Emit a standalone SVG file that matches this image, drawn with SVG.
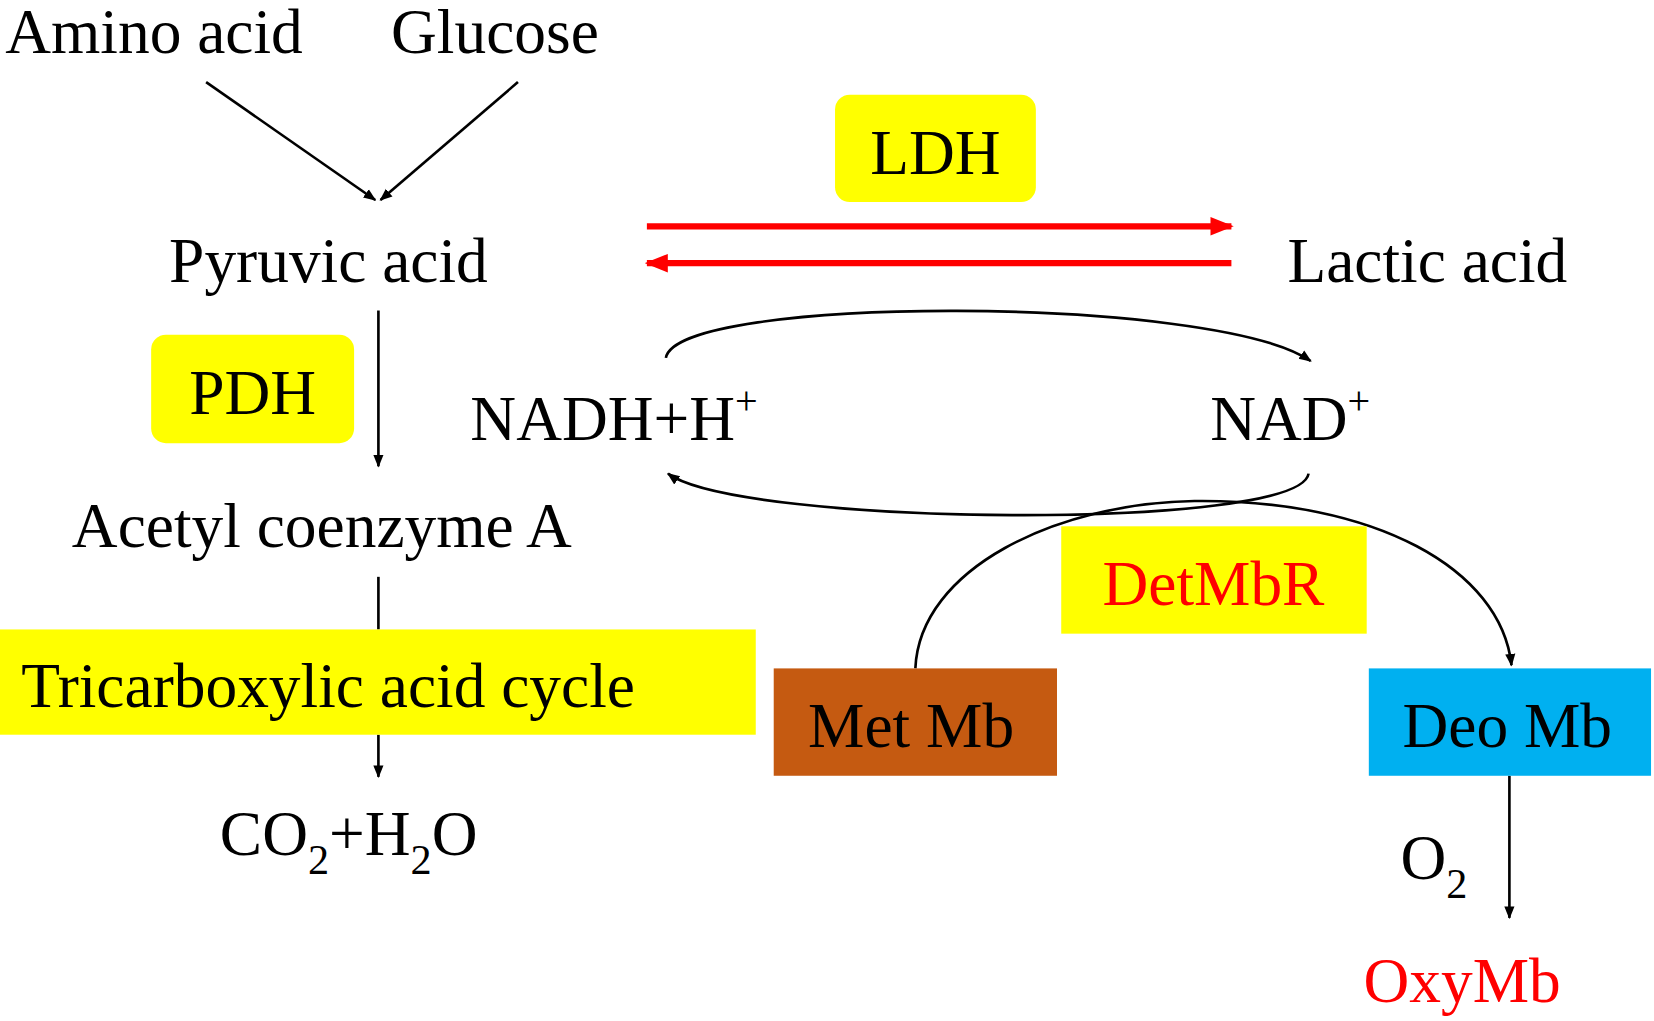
<svg xmlns="http://www.w3.org/2000/svg" width="1654" height="1021" viewBox="0 0 1654 1021">
<style>
text{font-family:"Liberation Serif","Times New Roman",serif;font-size:60px;fill:#000}
.r{fill:#f00}
.l{stroke:#000;stroke-width:2.5;fill:none}
.red{stroke:#f00;stroke-width:6;fill:none}
</style>
<defs>
<marker id="a" viewBox="0 0 10 10" refX="9" refY="5" markerWidth="6" markerHeight="6" orient="auto" markerUnits="userSpaceOnUse"><path d="M0,0L10,5L0,10z"/></marker>
<marker id="ab" viewBox="0 0 10 10" refX="9" refY="5" markerWidth="12" markerHeight="12" orient="auto" markerUnits="userSpaceOnUse"><path d="M0,1L10,5L0,9z"/></marker>
<marker id="ar" viewBox="0 0 10 10" refX="9" refY="5" markerWidth="22" markerHeight="22" orient="auto" markerUnits="userSpaceOnUse"><path d="M0,1L10,5L0,9z" fill="#f00"/></marker>
</defs>
<rect width="1654" height="1021" fill="#fff"/>
<g transform="scale(1.057,1.0526)">
<g id="connectors">
<line class="l" x1="195" y1="78" x2="355" y2="190" marker-end="url(#ab)"/>
<line class="l" x1="490" y1="78" x2="360" y2="190" marker-end="url(#ab)"/>
<line class="red" x1="612" y1="215" x2="1165" y2="215" marker-end="url(#ar)"/>
<line class="red" x1="1165" y1="250" x2="612" y2="250" marker-end="url(#ar)"/>
<line class="l" x1="358" y1="295" x2="358" y2="443" marker-end="url(#ab)"/>
<path class="l" d="M630,340 C640,280 1150,280 1240,343" marker-end="url(#ab)"/>
<path class="l" d="M1238,450 C1230,505 700,500 632,450" marker-end="url(#ab)"/>
<line class="l" x1="358" y1="548" x2="358" y2="598"/>
<line class="l" x1="358" y1="698" x2="358" y2="738" marker-end="url(#ab)"/>
<path class="l" d="M866,635 C870,540 1000,478 1130,476 C1300,474 1420,540 1430,632" marker-end="url(#ab)"/>
<line class="l" x1="1428" y1="737" x2="1428" y2="872" marker-end="url(#ab)"/>
</g>
<g id="amino"><text x="5" y="50">Amino acid</text></g>
<g id="glucose"><text x="370" y="50">Glucose</text></g>
<g id="pyruvic"><text x="160" y="268">Pyruvic acid</text></g>
<g id="ldh"><rect x="790" y="90" width="190" height="102" rx="14" fill="#ff0"/><text x="885" y="165" text-anchor="middle">LDH</text></g>
<g id="lactic"><text x="1218" y="268">Lactic acid</text></g>
<g id="pdh"><rect x="143" y="318" width="192" height="103" rx="14" fill="#ff0"/><text x="239" y="393" text-anchor="middle">PDH</text></g>
<g id="nadh"><text x="445" y="418">NADH+H<tspan dy="-25" font-size="38">+</tspan></text></g>
<g id="nad"><text x="1145" y="418">NAD<tspan dy="-25" font-size="38">+</tspan></text></g>
<g id="acetyl"><text x="68" y="520">Acetyl coenzyme A</text></g>
<g id="tca"><rect x="0" y="598" width="715" height="100" fill="#ff0"/><text x="20" y="672" font-size="62">Tricarboxylic acid cycle</text></g>
<g id="co2"><text x="208" y="812">CO<tspan dy="18" font-size="40">2</tspan><tspan dy="-18">+H</tspan><tspan dy="18" font-size="40">2</tspan><tspan dy="-18">O</tspan></text></g>
<g id="detmbr"><rect x="1004" y="500" width="289" height="102" fill="#ff0"/><text class="r" x="1148" y="575" text-anchor="middle">DetMbR</text></g>
<g id="metmb"><rect x="732" y="635" width="268" height="102" fill="#C55A11"/><text x="862" y="710" text-anchor="middle">Met Mb</text></g>
<g id="deomb"><rect x="1295" y="635" width="267" height="102" fill="#00B0F0"/><text x="1426" y="710" text-anchor="middle">Deo Mb</text></g>
<g id="o2"><text x="1325" y="835">O<tspan dy="18" font-size="40">2</tspan></text></g>
<g id="oxymb"><text class="r" x="1290" y="952">OxyMb</text></g>
</g>
</svg>
